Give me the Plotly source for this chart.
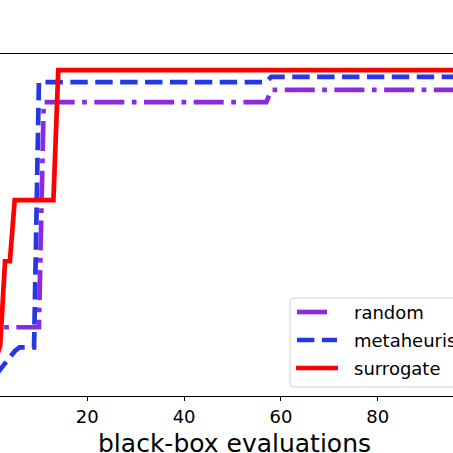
import plotly.graph_objects as go

# evaluation index (1..100)
evals = list(range(1, 101))

# best-so-far values (arbitrary units, 0..1 scale)
random_vals = [0.104] + [0.201] * 9 + [0.859] * 47 + [0.895] * 43
metaheuristic_vals = [0.060, 0.078, 0.095, 0.113, 0.131, 0.142, 0.142, 0.142, 0.142] + [0.918] * 48 + [0.933] * 43
surrogate_vals = [0.100, 0.148, 0.394, 0.394] + [0.573] * 9 + [0.953] * 87

x_range = [1.96, 95.56]
y_range = [0.0, 1.0]
xtick_vals = [20, 40, 60, 80]
x_title = "black-box evaluations"
names = ["random", "metaheuristic", "surrogate"]
colors = ["#8a2be2", "#2538e8", "#ff0000"]
dashes = ["30px,7.5px,4.7px,7.5px", "17.4px,7.5px", "solid"]

W, H = 453, 453
T, B = 54, 57
PH = H - T - B


def px(xp):
    return xp / W


def py(yp):
    return (H - B - yp) / PH


fig = go.Figure()
for name, vals, col, dsh in zip(names, [random_vals, metaheuristic_vals, surrogate_vals], colors, dashes):
    fig.add_trace(go.Scatter(x=evals, y=vals, mode="lines", name=name,
                             line=dict(color=col, width=4.7, dash=dsh)))

fig.update_layout(
    width=W, height=H,
    margin=dict(l=0, r=0, t=T, b=B),
    plot_bgcolor="white", paper_bgcolor="white",
    font=dict(family="DejaVu Sans", color="black"),
    showlegend=False,
)
fig.update_xaxes(range=x_range, tickvals=xtick_vals, showgrid=False, zeroline=False,
                 showline=True, linecolor="black", linewidth=1.3, mirror=True,
                 ticks="outside", ticklen=4, tickwidth=1.2, tickcolor="black",
                 tickfont=dict(size=18, family="DejaVu Sans", color="black"))
fig.update_yaxes(range=y_range, showgrid=False, zeroline=False, showline=False,
                 showticklabels=False, ticks="")
fig.add_annotation(x=50.5, xref="x", y=-0.091, yref="paper", yanchor="top",
                   text=x_title, showarrow=False,
                   font=dict(size=25, family="DejaVu Sans", color="black"))

# legend box (matplotlib style, extends past the right edge)
x0, x1, y0, y1, r = 290, 480, 298, 387, 4
path = (f"M {px(x0 + r)},{py(y0)} L {px(x1)},{py(y0)} L {px(x1)},{py(y1)} "
        f"L {px(x0 + r)},{py(y1)} Q {px(x0)},{py(y1)} {px(x0)},{py(y1 - r)} "
        f"L {px(x0)},{py(y0 + r)} Q {px(x0)},{py(y0)} {px(x0 + r)},{py(y0)} Z")
fig.add_shape(type="path", path=path, xref="paper", yref="paper",
              line=dict(color="#d0d0d0", width=1), fillcolor="rgba(255,255,255,0.8)")
row_y = [312, 340, 368]
sample_x = [(297, 329), (297, 337), (296, 338)]
for name, col, dsh, ry, (sx0, sx1) in zip(names, colors, dashes, row_y, sample_x):
    fig.add_shape(type="line", xref="paper", yref="paper",
                  x0=px(sx0), x1=px(sx1), y0=py(ry), y1=py(ry),
                  line=dict(color=col, width=4.7, dash=dsh))
    fig.add_annotation(x=px(352), xref="paper", y=py(ry), yref="paper",
                       xanchor="left", yanchor="middle", text=name, showarrow=False,
                       font=dict(size=18, family="DejaVu Sans", color="black"))

fig.write_html("out.html")
